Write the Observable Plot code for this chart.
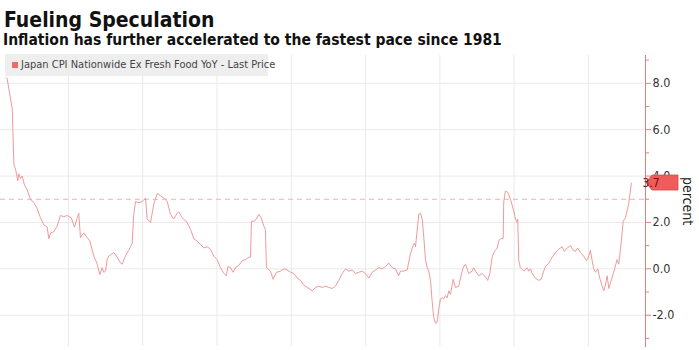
<!DOCTYPE html>
<html>
<head>
<meta charset="utf-8">
<script src="https://cdn.jsdelivr.net/npm/d3@7"></script>
<script src="https://cdn.jsdelivr.net/npm/@observablehq/plot@0.6"></script>
<style>
  html, body { margin: 0; padding: 0; background: #fff; }
  #wrap { position: relative; width: 699px; height: 350px; overflow: hidden; }
  #title { position: absolute; left: 4px; top: 8px; font: bold 21px "DejaVu Sans Condensed", "DejaVu Sans", sans-serif; color: #111; white-space: nowrap; }
  #subtitle { position: absolute; left: 3px; top: 31px; font: bold 15.5px "DejaVu Sans Condensed", "DejaVu Sans", sans-serif; color: #111; white-space: nowrap; }
  #chart { position: absolute; left: 0; top: 50px; }
  #legend { position: absolute; left: 5px; top: 54px; height: 22px; width: 263px; background: rgba(236,236,236,0.9);
            font: 11px "DejaVu Sans Condensed", sans-serif; color: #444; line-height: 22px; white-space: nowrap; }
  #legend .sw { display: inline-block; width: 6px; height: 6px; background: #f06a6a; margin: 0 3px 0 7px; vertical-align: 0px; }
</style>
</head>
<body>
<div id="wrap">
  <div id="title">Fueling Speculation</div>
  <div id="subtitle">Inflation has further accelerated to the fastest pace since 1981</div>
  <div id="chart"></div>
  <div id="legend"><span class="sw"></span>Japan CPI Nationwide Ex Fresh Food YoY - Last Price</div>
</div>
<script>
// Japan CPI Nationwide Ex Fresh Food YoY (%)
const years = [
  1980.81,1980.88,1981.22,1981.33,1981.44,1981.60,1981.66,1981.78,1981.89,1982.05,1982.23,1982.45,1982.67,1982.90,
  1983.12,1983.34,1983.57,1983.68,1983.80,1984.02,1984.25,1984.47,1984.69,1984.92,1985.19,1985.41,1985.59,1985.70,
  1985.81,1986.04,1986.26,1986.44,1986.71,1986.94,1987.11,1987.27,1987.38,1987.50,1987.61,1987.72,1987.95,1988.06,
  1988.28,1988.51,1988.62,1988.84,1989.06,1989.29,1989.40,1989.52,1989.74,1989.97,1990.19,1990.30,1990.53,1990.75,
  1990.98,1991.20,1991.42,1991.65,1991.87,1992.09,1992.32,1992.43,1992.66,1992.99,1993.22,1993.44,1993.67,1993.89,
  1994.12,1994.34,1994.56,1994.78,1995.01,1995.24,1995.46,1995.64,1995.73,1995.91,1996.09,1996.25,1996.47,1996.70,
  1996.92,1997.14,1997.25,1997.32,1997.48,1997.66,1997.81,1997.97,1998.15,1998.26,1998.33,1998.60,1998.78,1999.00,
  1999.27,1999.50,1999.72,1999.95,2000.17,2000.40,2000.62,2000.84,2001.07,2001.41,2001.63,2001.85,2002.08,2002.30,
  2002.52,2002.75,2002.97,2003.20,2003.43,2003.65,2003.87,2004.10,2004.32,2004.54,2004.77,2004.99,2005.22,2005.44,
  2005.67,2005.89,2006.12,2006.34,2006.56,2006.79,2007.01,2007.23,2007.35,2007.57,2007.80,2008.02,2008.20,2008.29,
  2008.36,2008.47,2008.58,2008.69,2008.81,2008.92,2009.03,2009.15,2009.25,2009.37,2009.48,2009.59,2009.70,2009.82,
  2009.93,2010.04,2010.15,2010.26,2010.38,2010.49,2010.60,2010.71,2010.90,2011.05,2011.27,2011.50,2011.61,2011.72,
  2011.84,2011.94,2012.17,2012.28,2012.40,2012.62,2012.85,2013.07,2013.22,2013.36,2013.52,2013.63,2013.74,2013.86,
  2013.96,2014.08,2014.26,2014.30,2014.41,2014.57,2014.75,2014.97,2015.09,2015.20,2015.24,2015.31,2015.42,2015.65,
  2015.87,2015.98,2016.10,2016.21,2016.43,2016.66,2016.82,2016.99,2017.11,2017.33,2017.56,2017.78,2018.00,2018.23,
  2018.38,2018.57,2018.79,2018.97,2019.13,2019.28,2019.46,2019.68,2019.87,2020.02,2020.13,2020.25,2020.36,2020.47,
  2020.63,2020.76,2020.92,2021.03,2021.14,2021.26,2021.37,2021.48,2021.70,2021.93,2022.04,2022.15,2022.34,2022.49,
  2022.71,2022.89
];
const values = [
  8.25,8.2,6.9,4.5,4.3,3.8,4.1,3.9,4.0,3.6,3.4,3.0,2.85,2.6,
  2.2,1.9,1.8,1.3,1.55,1.6,1.85,2.3,2.25,2.3,2.2,1.8,2.2,2.4,
  1.35,1.55,1.35,1.2,0.55,0.2,-0.25,0.05,-0.15,-0.1,0.4,0.55,0.65,0.7,
  0.5,0.25,0.2,0.55,0.8,1.1,2.35,2.9,2.85,2.9,3.05,2.15,2.0,2.8,
  3.25,3.15,3.05,2.9,2.35,2.15,2.4,2.45,2.2,2.0,1.7,1.3,1.2,1.05,
  0.9,0.95,0.85,0.55,0.4,0.05,-0.2,-0.3,0.1,0.05,-0.15,0.05,0.15,0.35,
  0.4,0.5,0.5,2.05,2.05,2.15,2.35,2.2,1.85,1.7,0.05,-0.1,-0.45,-0.15,
  -0.1,0.0,-0.05,-0.15,-0.2,-0.4,-0.5,-0.7,-0.8,-0.95,-0.8,-0.75,-0.8,-0.75,
  -0.8,-0.85,-0.75,-0.5,-0.2,0.0,-0.1,-0.05,-0.2,-0.15,-0.1,-0.2,-0.4,-0.15,
  -0.05,0.05,0.0,0.1,0.25,0.05,0.0,-0.3,-0.1,-0.1,-0.05,0.65,1.0,1.1,
  0.95,1.65,2.35,2.4,2.15,1.35,0.4,0.05,-0.1,-0.5,-1.4,-2.1,-2.35,-2.3,
  -1.7,-1.3,-1.25,-1.3,-1.15,-1.25,-0.95,-1.1,-0.45,-0.8,-0.75,-0.1,0.1,0.2,
  0.0,-0.2,-0.1,0.05,-0.1,-0.3,-0.2,-0.35,-0.5,-0.2,0.5,0.7,0.8,0.9,
  1.2,1.3,1.3,2.9,3.35,3.3,3.0,2.5,2.15,2.0,2.15,0.35,0.05,-0.1,
  0.05,-0.1,0.0,-0.2,-0.4,-0.5,-0.45,-0.1,0.1,0.25,0.5,0.7,0.85,0.95,
  0.75,0.9,1.0,0.8,0.75,0.9,0.7,0.55,0.35,0.55,0.8,0.35,0.0,-0.15,
  0.0,-0.4,-0.75,-0.95,-0.7,-0.3,-0.85,-0.6,-0.15,0.4,0.2,0.8,2.05,2.2,
  2.8,3.7
];
const gridYears = [1985, 1990, 1995, 2000, 2005, 2010, 2015, 2020];
const yTicks = [-2, 0, 2, 4, 6, 8];
const yMinorTicks = [-3, -1, 1, 3, 5, 7, 9];
const refLevel = 3;   // dashed reference line
const yLabel = "percent";

const data = years.map((t, i) => ({t, v: values[i]}));
const lineColor = "#ef9a9a";
const axisColor = "#e28080";

const chart = Plot.plot({
  width: 699,
  height: 300,
  marginTop: 5,
  marginBottom: 4,
  marginLeft: 0,
  marginRight: 54,
  x: {type: "linear", domain: [1980.43, 2023.84], axis: null},
  y: {domain: [-3.35, 9.2], axis: null},
  style: {background: "transparent"},
  marks: [
    Plot.ruleX(gridYears, {stroke: "#e9e9e9", strokeWidth: 1}),
    Plot.ruleY(yTicks, {stroke: "#eaeaea", strokeWidth: 1}),
    Plot.ruleY([refLevel], {stroke: "#f4b0b0", strokeWidth: 1, strokeDasharray: "5,4"}),
    Plot.line(data, {x: "t", y: "v", stroke: lineColor, strokeWidth: 1}),
    Plot.axisY(yMinorTicks, {anchor: "right", tickSize: 3, stroke: axisColor, text: null, label: null}),
    Plot.axisY(yTicks, {anchor: "right", tickSize: 5, stroke: axisColor, tickPadding: 2, label: null,
      tickFormat: d => d.toFixed(1), fill: "#333", fontSize: 12.5,
      fontFamily: "DejaVu Sans Condensed"}),
    Plot.frame({anchor: "right", stroke: axisColor}),
    Plot.text([yLabel], {frameAnchor: "right", text: d => d, rotate: 90, dx: 42, textAnchor: "middle",
      fontSize: 14, fill: "#222", fontFamily: "DejaVu Sans Condensed"})
  ]
});
document.getElementById("chart").appendChild(chart);

// last-value tag on the right axis
const svg = d3.select(chart);
const last = data[data.length - 1];
const yPos = chart.scale("y").apply(last.v);
const xPos = 699 - 54;
const g = svg.append("g");
g.append("path")
  .attr("d", `M${xPos + 1},${yPos} L${xPos + 7},${yPos - 7.5} H${xPos + 33} V${yPos + 7.5} H${xPos + 7} Z`)
  .attr("fill", "#f05c5c").attr("stroke", "#d04a4a").attr("stroke-width", 0.8);
g.append("text")
  .attr("x", xPos + 6).attr("y", yPos + 4.2)
  .attr("font-family", "DejaVu Sans Condensed").attr("font-size", 12)
  .attr("fill", "#7a0a0a").text(last.v.toFixed(1));
</script>
</body>
</html>
